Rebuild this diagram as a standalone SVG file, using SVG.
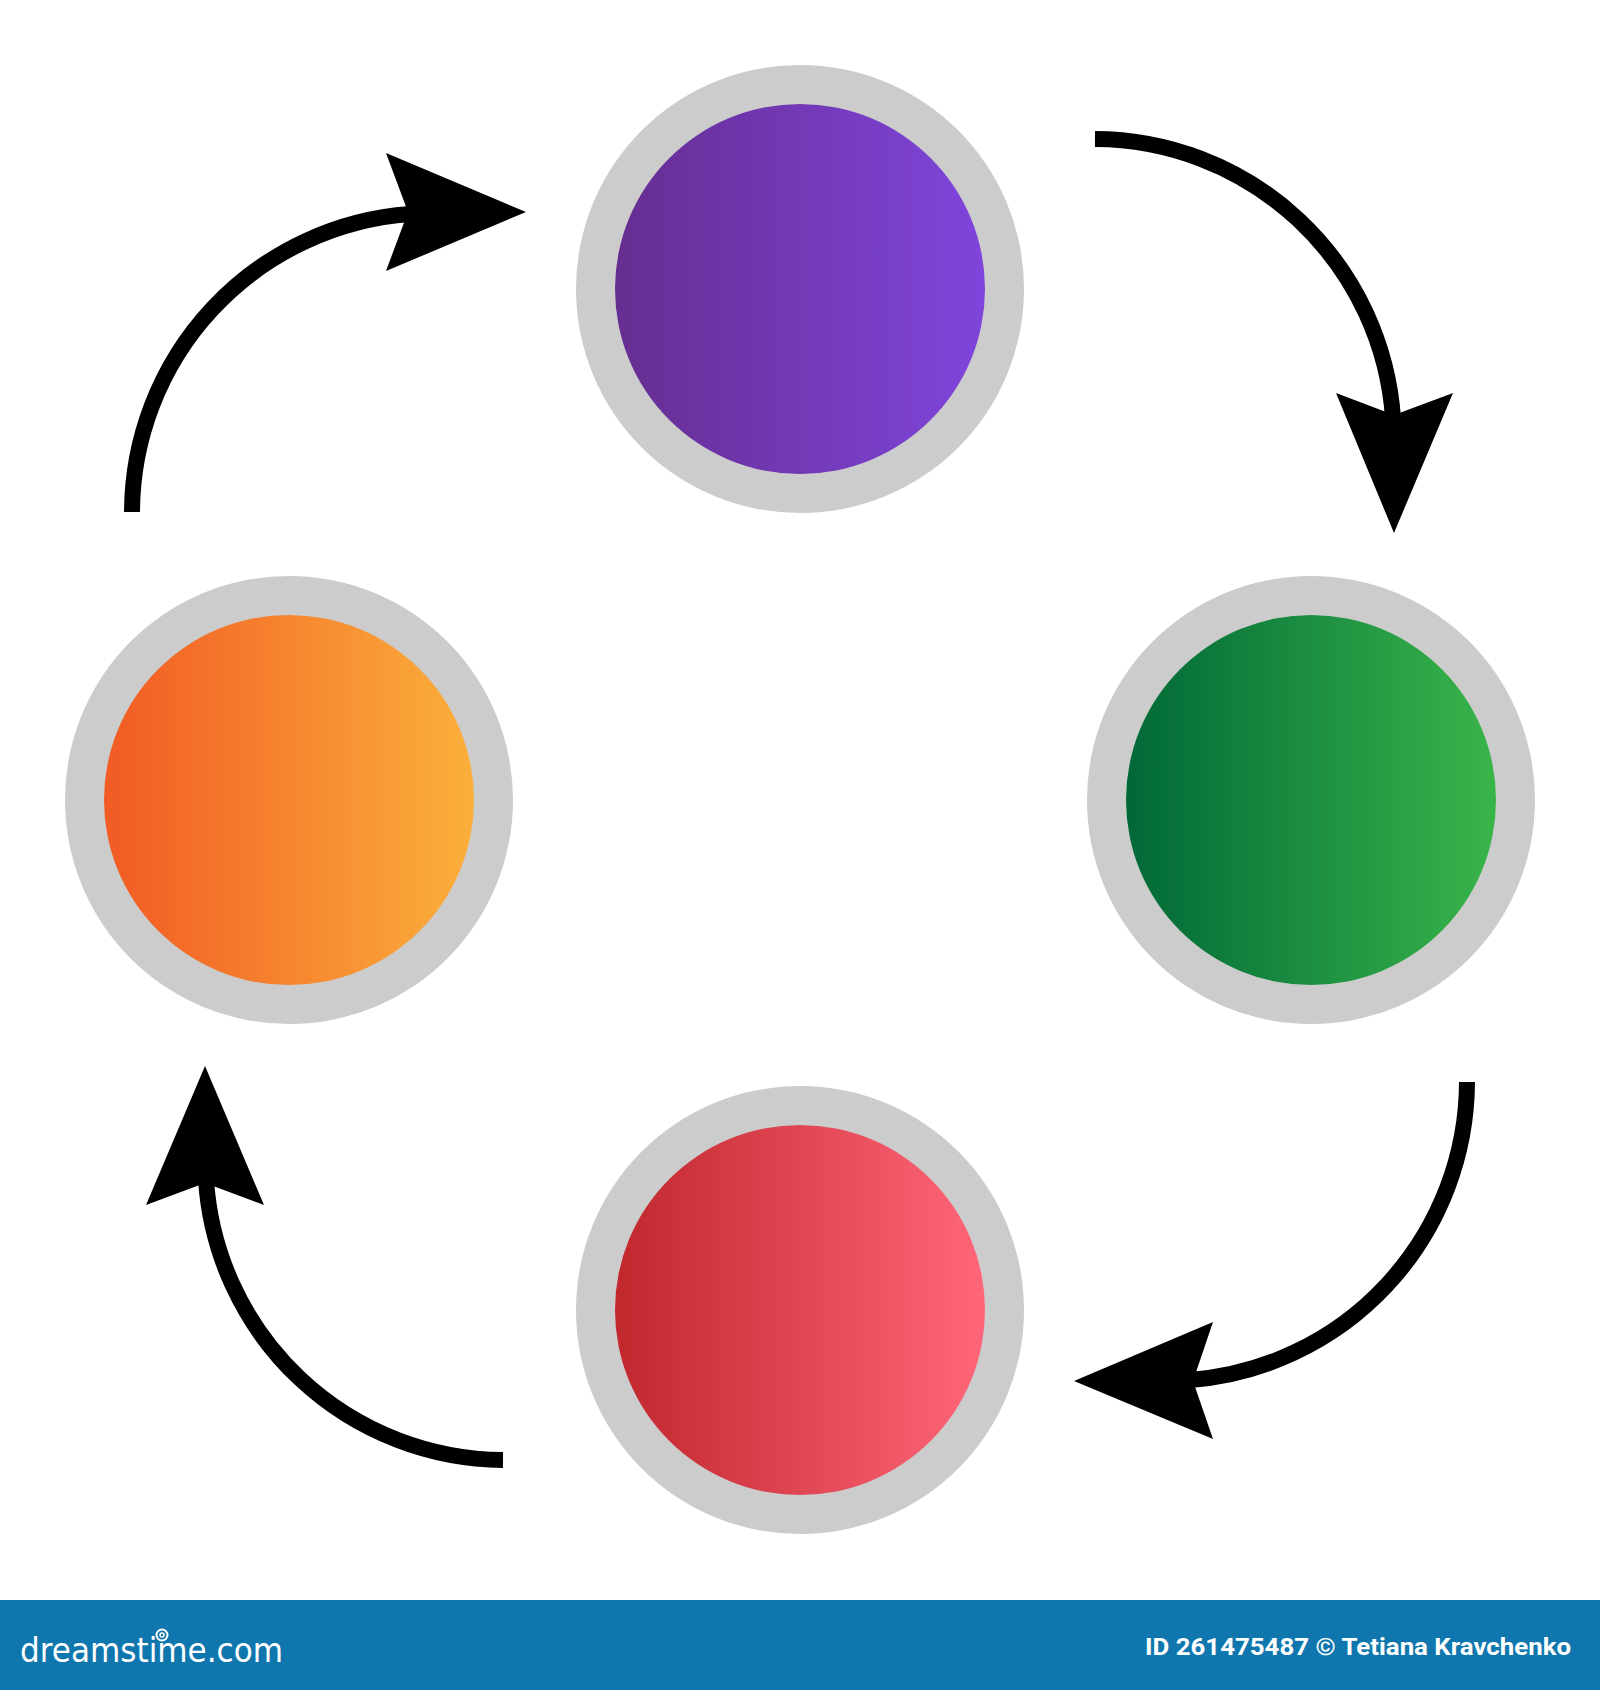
<svg xmlns="http://www.w3.org/2000/svg" width="1600" height="1690" viewBox="0 0 1600 1690">
  <defs>
    <linearGradient id="gPurple" x1="0" y1="0" x2="1" y2="0">
      <stop offset="0" stop-color="#662d91"/>
      <stop offset="1" stop-color="#7f45dc"/>
    </linearGradient>
    <linearGradient id="gOrange" x1="0" y1="0" x2="1" y2="0">
      <stop offset="0" stop-color="#f15a24"/>
      <stop offset="1" stop-color="#fbb03b"/>
    </linearGradient>
    <linearGradient id="gGreen" x1="0" y1="0" x2="1" y2="0">
      <stop offset="0" stop-color="#006837"/>
      <stop offset="1" stop-color="#39b54a"/>
    </linearGradient>
    <linearGradient id="gRed" x1="0" y1="0" x2="1" y2="0">
      <stop offset="0" stop-color="#c1272d"/>
      <stop offset="1" stop-color="#ff6679"/>
    </linearGradient>
  </defs>
  <style>
    .ring { fill: #cccccc; }
    .shaft { fill: none; stroke: #000000; stroke-width: 16; stroke-linecap: butt; }
    .head { fill: #000000; }
    .brand { fill: #ffffff; font-family: "DejaVu Sans", "Liberation Sans", sans-serif; }
    .credit { fill: #ffffff; font-family: Roboto, "Liberation Sans", sans-serif; font-weight: bold; }
  </style>
  <rect x="0" y="0" width="1600" height="1690" fill="#ffffff"/>

  <g id="node-purple">
    <circle class="ring" cx="800" cy="289" r="224"/>
    <circle cx="800" cy="289" r="185" fill="url(#gPurple)"/>
  </g>
  <g id="node-green">
    <circle class="ring" cx="1311" cy="800" r="224"/>
    <circle cx="1311" cy="800" r="185" fill="url(#gGreen)"/>
  </g>
  <g id="node-red">
    <circle class="ring" cx="800" cy="1310" r="224"/>
    <circle cx="800" cy="1310" r="185" fill="url(#gRed)"/>
  </g>
  <g id="node-orange">
    <circle class="ring" cx="289" cy="800" r="224"/>
    <circle cx="289" cy="800" r="185" fill="url(#gOrange)"/>
  </g>

  <g id="connectors">
    <path class="shaft" d="M1095,139 A300,300 0 0 1 1393,418"/>
    <polygon class="head" points="1394,533 1453,393 1394,415 1336,393"/>

    <path class="shaft" d="M1467,1082 A300,300 0 0 1 1190,1380"/>
    <polygon class="head" points="1074,1381 1213,1322 1193,1381 1213,1439"/>

    <path class="shaft" d="M503,1460 A300,300 0 0 1 206,1180"/>
    <polygon class="head" points="205,1066 264,1205 205,1183 146,1205"/>

    <path class="shaft" d="M132,512 A300,300 0 0 1 410,214"/>
    <polygon class="head" points="526,212 386,271 408,212 386,153"/>
  </g>

  <g id="footer">
    <rect x="0" y="1600" width="1600" height="90" fill="#1077ae"/>
    <text class="brand" x="20" y="1662" font-size="34" textLength="263" lengthAdjust="spacingAndGlyphs">dreamstime.com</text>
    <circle cx="162" cy="1635" r="5.5" fill="none" stroke="#ffffff" stroke-width="2"/>
    <circle cx="162" cy="1635" r="2" fill="none" stroke="#ffffff" stroke-width="1.5"/>
    <text class="credit" x="1571" y="1655" font-size="24" text-anchor="end" textLength="426" lengthAdjust="spacingAndGlyphs">ID 261475487 © Tetiana Kravchenko</text>
  </g>
</svg>
